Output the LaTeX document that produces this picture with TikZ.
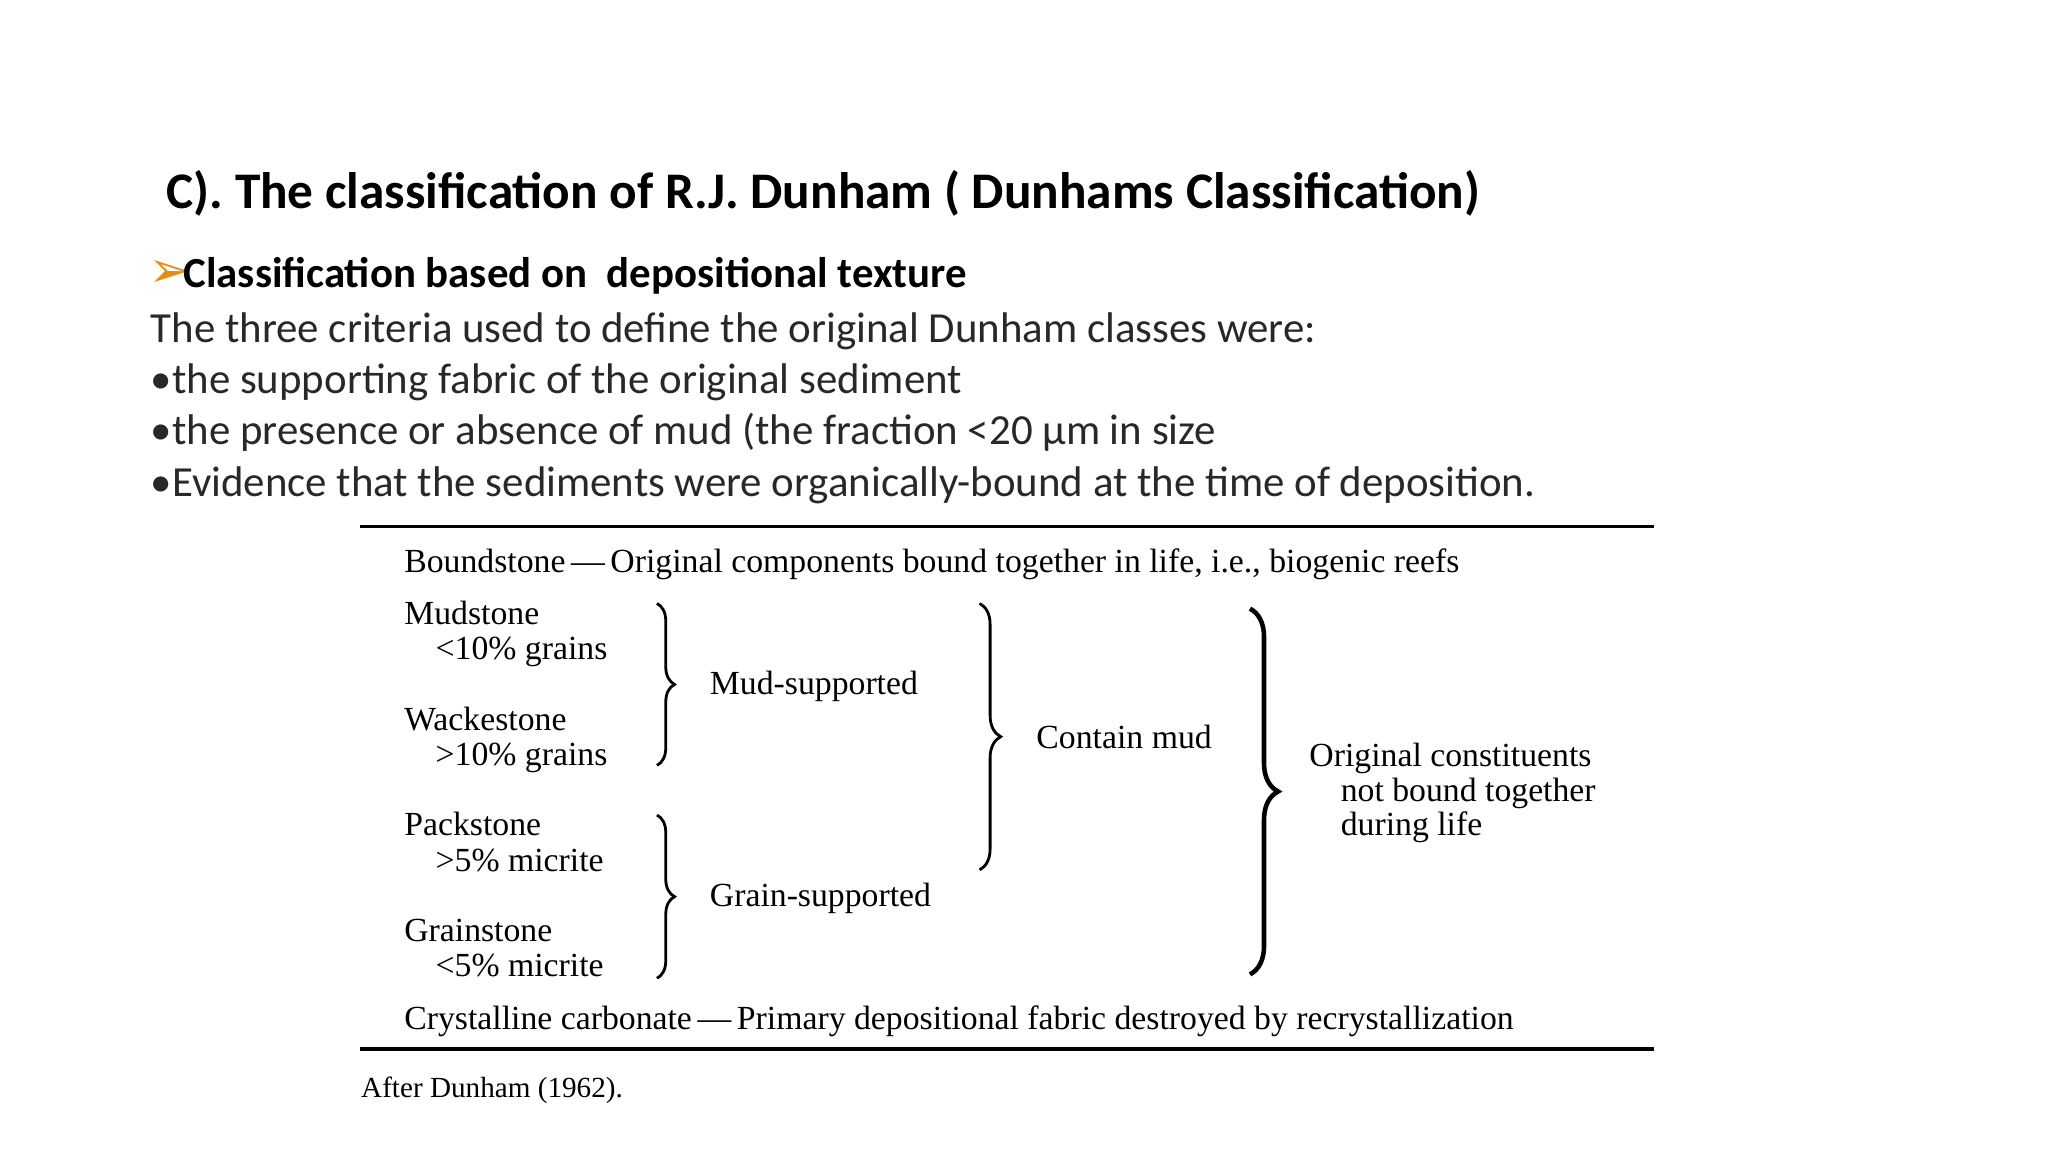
\documentclass[tikz,border=0pt]{standalone}
\usepackage{fontspec}
\setmainfont{Carlito}
\newfontfamily\tabf{Liberation Serif}
\newfontfamily\dejavu{DejaVu Sans}
\usetikzlibrary{decorations.pathreplacing}
\begin{document}
\begin{tikzpicture}[x=0.01306cm,y=-0.01306cm,
  tt/.style={anchor=base west,inner sep=0pt,font=\tabf\fontsize{9.6pt}{11pt}\selectfont},
  bd/.style={anchor=base west,inner sep=0pt,font=\fontsize{12.2pt}{15pt}\selectfont},
  br/.style={decorate,decoration={brace,amplitude=5pt},line width=0.8pt}]
\useasboundingbox (0,0) rectangle (1568,882);
\node[anchor=base west,inner sep=0pt,font=\bfseries\fontsize{14.6pt}{18pt}\selectfont] (title) at (127,160) {C). The classification of R.J. Dunham ( Dunhams Classification)};
\node[anchor=base west,inner sep=0pt,font=\dejavu\fontsize{14.5pt}{16pt}\selectfont,text={rgb,255:red,230;green,140;blue,20}] (arr) at (113,220) {➢};
\node[bd,font=\bfseries\fontsize{12.2pt}{15pt}\selectfont] (sub) at (140,220) {Classification based on\ \ depositional texture};
\node[bd,text={rgb,255:red,40;green,40;blue,40}] (l1) at (115,262) {The three criteria used to define the original Dunham classes were:};
\node[bd,text={rgb,255:red,40;green,40;blue,40}] (l2) at (115,301) {•the supporting fabric of the original sediment};
\node[bd,text={rgb,255:red,40;green,40;blue,40}] (l3) at (115,340) {•the presence or absence of mud (the fraction <20 µm in size};
\node[bd,text={rgb,255:red,40;green,40;blue,40}] (l4) at (115,380) {•Evidence that the sediments were organically-bound at the time of deposition.};
\coordinate (t1) at (276,403); \coordinate (t2) at (1266,403);
\coordinate (b1) at (276,803); \coordinate (b2) at (1266,803);
\draw[line width=1pt] (t1) -- (t2);
\draw[line width=1pt] (b1) -- (b2);
\node[tt] (bs) at (309,438) {Boundstone\,—\,Original components bound together in life, i.e., biogenic reefs};
\node[tt] (ms) at (309,478) {Mudstone};
\node[tt] (ms2) at (333,505) {<10\% grains};
\node[tt] (ws) at (309,559) {Wackestone};
\node[tt] (ws2) at (333,586) {>10\% grains};
\node[tt] (ps) at (309,640) {Packstone};
\node[tt] (ps2) at (333,667) {>5\% micrite};
\node[tt] (gs) at (309,721) {Grainstone};
\node[tt] (gs2) at (333,748) {<5\% micrite};
\node[tt] (cc) at (309,788) {Crystalline carbonate\,—\,Primary depositional fabric destroyed by recrystallization};
\node[tt,font=\tabf\fontsize{8.3pt}{10pt}\selectfont] (ad) at (276,840) {After Dunham (1962).};
\node[tt] (mud) at (543,532) {Mud-supported};
\node[tt] (gr) at (543,694) {Grain-supported};
\node[tt] (cm) at (793,573) {Contain mud};
\node[tt] (oc1) at (1002,587) {Original constituents};
\node[tt] (oc2) at (1026,614) {not bound together};
\node[tt] (oc3) at (1026,640) {during life};
\coordinate (a1) at (503,462); \coordinate (a2) at (503,586);
\coordinate (c1) at (503,624); \coordinate (c2) at (503,749);
\coordinate (d1) at (750,462); \coordinate (d2) at (750,666);
\coordinate (e1) at (957,466); \coordinate (e2) at (957,746);
\draw[br] (a1) -- (a2);
\draw[br] (c1) -- (c2);
\draw[br,decoration={brace,amplitude=6pt}] (d1) -- (d2);
\draw[br,decoration={brace,amplitude=8pt},line width=1.3pt] (e1) -- (e2);
\end{tikzpicture}
\end{document}
